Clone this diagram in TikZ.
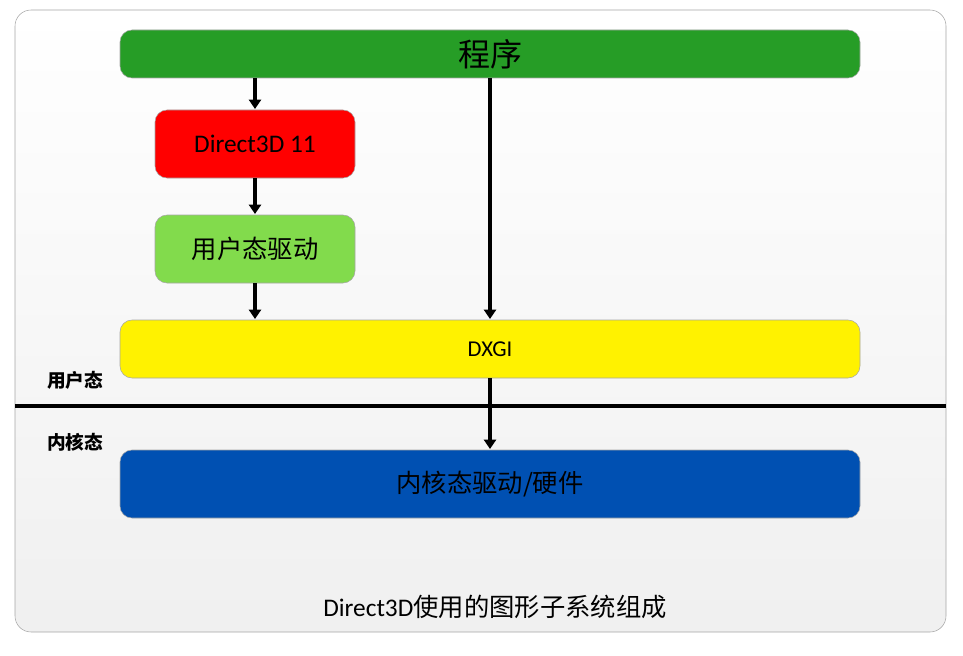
\documentclass[tikz,border=0pt]{standalone}
\usepackage{fontspec}
\setmainfont{Carlito}
\newfontfamily\cjk{Noto Sans CJK SC}
\usetikzlibrary{arrows.meta}
\begin{document}
\begin{tikzpicture}[x=0.75pt,y=-0.75pt,
  bar/.style={draw=gray!70,rounded corners=9pt},
  arr/.style={line width=2.6pt,-{Triangle[length=7pt,width=9pt]}}]
\useasboundingbox (0,0) rectangle (963,656);
\shade[top color=white,bottom color=gray!12,draw=gray!70,rounded corners=12pt] (15,10) rectangle (946,632);
\path[bar,fill=green!55!black!85] (120,30) rectangle (860,78);
\node (prog) at (490,54) {\cjk\fontsize{24}{28}\selectfont 程序};
\coordinate (progA) at (255,78); \coordinate (progB) at (490,78);
\path[bar,fill=red] (155,110) rectangle (355,178);
\node (d3d) at (255,144) {\fontsize{19}{22}\selectfont Direct3D 11};
\path[bar,fill=green!50!lime!80!black!70] (155,215) rectangle (355,283);
\node (umd) at (255,249) {\cjk\fontsize{19}{22}\selectfont 用户态驱动};
\path[bar,fill=yellow] (120,320) rectangle (860,378);
\node (dxgi) at (490,349) {\fontsize{17}{20}\selectfont DXGI};
\path[bar,fill=blue!55!cyan!70!black] (120,450) rectangle (860,518);
\node (kmd) at (490,484) {\cjk\fontsize{19}{22}\selectfont 内核态驱动/硬件};
\draw[line width=3pt] (15,406) -- (946,406);
\node (ul) at (75,380) {\cjk\fontsize{14}{16}\selectfont\bfseries 用户态};
\node (kl) at (75,442) {\cjk\fontsize{14}{16}\selectfont\bfseries 内核态};
\node (cap) at (495,607) {\fontsize{19}{22}\selectfont Direct3D{\cjk 使用的图形子系统组成}};
\draw[arr] (progA) -- (255,109);
\draw[arr] (255,178) -- (255,214);
\draw[arr] (255,283) -- (255,319);
\draw[arr] (progB) -- (490,319);
\draw[arr] (490,378) -- (490,449);
\end{tikzpicture}
\end{document}
